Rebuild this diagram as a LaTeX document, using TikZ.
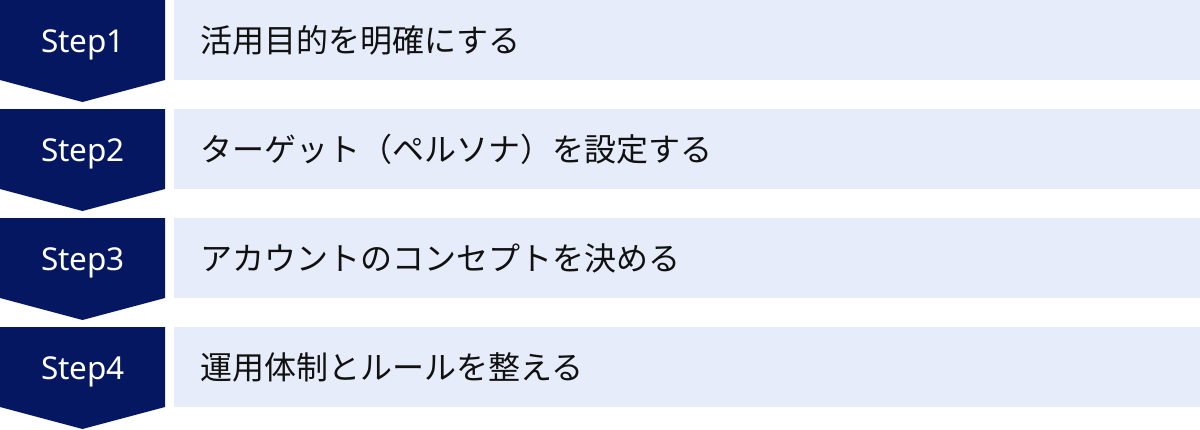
\documentclass[tikz,border=0pt]{standalone}
\usepackage{fontspec}
\setmainfont{Noto Sans}
\newfontfamily\jp{Noto Sans CJK JP}
\definecolor{navy}{HTML}{041760}
\definecolor{pale}{HTML}{E6ECF9}
\definecolor{ink}{HTML}{111111}
\begin{document}
\begin{tikzpicture}[x=1pt,y=1pt,
  stepshape/.style={fill=navy,draw=none},
  palebox/.style={fill=pale,draw=none},
  steplabel/.style={text=white,font=\fontsize{31.5}{38}\selectfont,anchor=base,inner sep=0pt},
  tasklabel/.style={text=ink,font=\jp\fontsize{32}{38}\selectfont,anchor=base west,inner sep=0pt}]
\useasboundingbox (0,0) rectangle (1200,-429);
\foreach \i/\t in {1/活用目的を明確にする,2/ターゲット（ペルソナ）を設定する,3/アカウントのコンセプトを決める,4/運用体制とルールを整える}{
  \pgfmathsetmacro{\top}{-(\i-1)*109}
  \path[stepshape] (0,\top) -- (165,\top) -- (165,\top-80) -- (82.5,\top-102) -- (0,\top-80) -- cycle;
  \path[palebox] (174,\top) rectangle (1200,\top-80);
  \node[steplabel] (s\i) at (83,\top-52) {Step\i};
  \node[tasklabel] (t\i) at (200,\top-52) {\t};
}
\end{tikzpicture}
\end{document}
